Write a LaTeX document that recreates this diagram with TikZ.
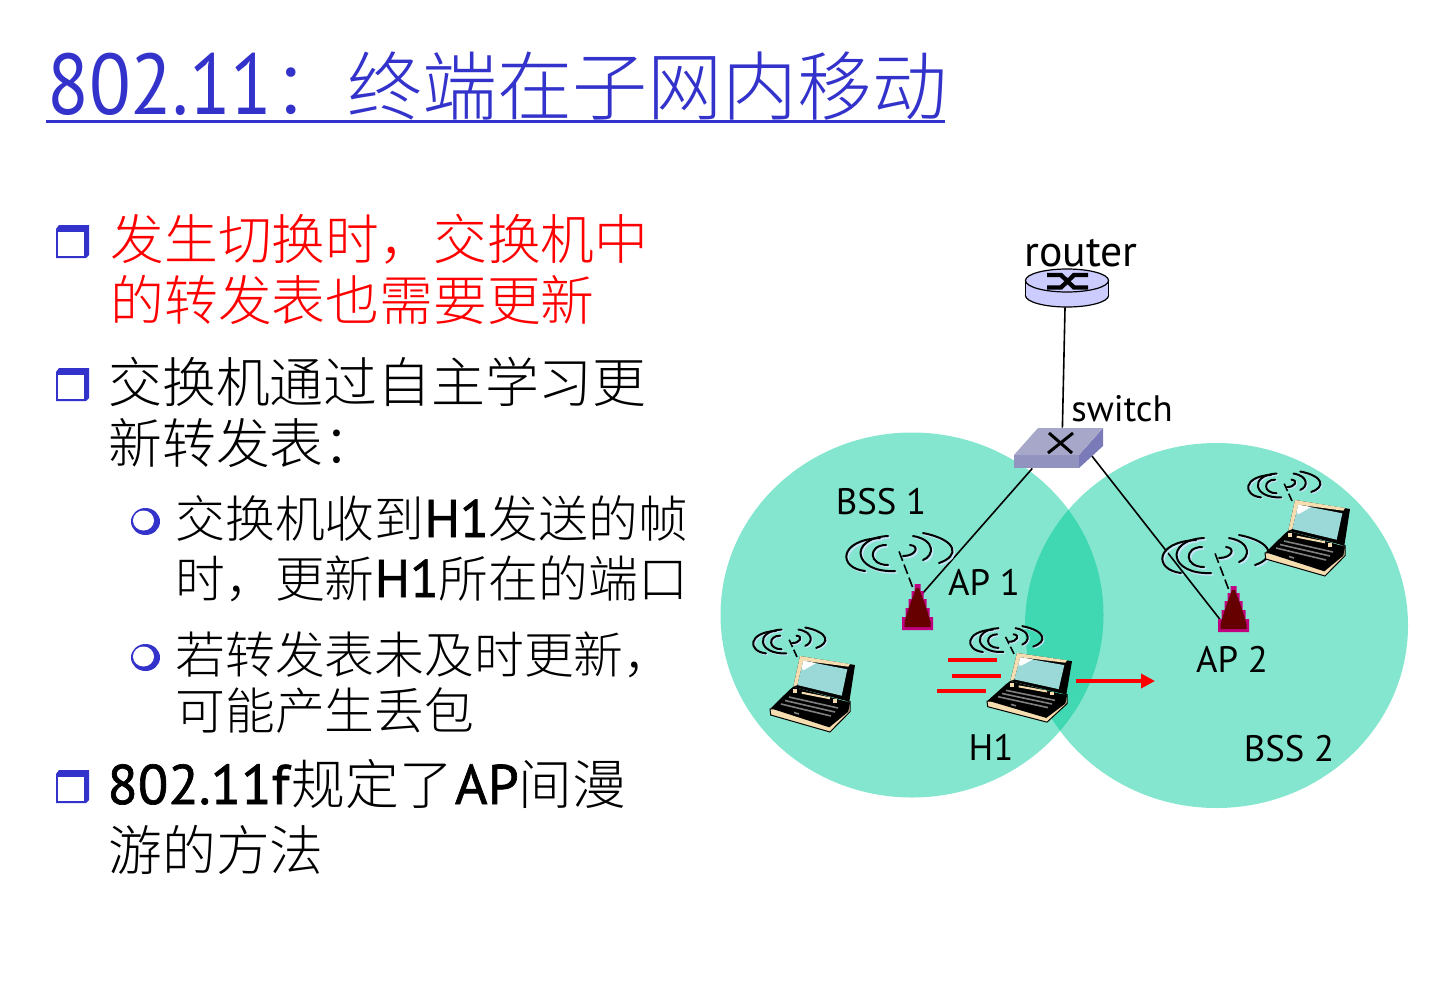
\documentclass[tikz,border=0pt]{standalone}
\usepackage{fontspec}
\setmainfont[Scale=1.15]{PT Sans}
\newfontfamily\titlelat[Scale=1.15,FakeStretch=0.888]{PT Sans}
\newfontfamily\boldlat[Scale=1.15,FakeBold=1.2]{PT Sans}
\newfontfamily\cjk{Noto Sans CJK SC Light}
\usetikzlibrary{arrows.meta}
\definecolor{titleblue}{HTML}{3333CC}
\definecolor{bsscolor}{HTML}{84E6CE}
\definecolor{overlapcolor}{HTML}{40D8B2}
\definecolor{wavecolor}{HTML}{C8E4F8}
\definecolor{creamcolor}{HTML}{F5DDB0}
\definecolor{screencolor}{HTML}{9BD8D8}
\definecolor{towercolor}{HTML}{660000}
\definecolor{toweredge}{HTML}{C00080}
\tikzset{
  titletext/.style={anchor=west, inner sep=0, text=titleblue, font=\fontsize{37.5}{40}\selectfont},
  mainline/.style={anchor=west, inner sep=0, text height=22pt, text depth=3pt, font=\fontsize{26.9}{30}\selectfont},
  subline/.style={anchor=west, inner sep=0, text height=21pt, text depth=2pt, font=\fontsize{24.9}{30}\selectfont},
  netlabel/.style={inner sep=0, font=\fontsize{16}{20}\selectfont},
  iconbox/.style={inner sep=0, minimum width=#1, text height=0pt, text depth=0pt},
  speedline/.style={red, line width=2.3pt},
  wavesline/.style={line width=1pt, line cap=round},
  squarebullet/.pic={
    \fill[titleblue] (3,0) -- (33,0) -- (33,30) -- (30,33) -- (0,33) -- (0,4) -- cycle;
    \fill[white] (2,7) rectangle (28,31);
  },
  roundbullet/.pic={
    \fill[titleblue] (0,0) ellipse [x radius=14.5, y radius=13.5];
    \fill[white] (-2,-1) ellipse [x radius=10.5, y radius=10];
  },
  waves/.pic={
    \foreach \col/\dx in {wavecolor/1.6, black/0} {
      \begin{scope}[shift={(\dx,\dx)}]
        \draw[wavesline, \col] (-18,-10) .. controls (-60,-8) and (-60,20) .. (-33,23);
        \draw[wavesline, \col] (-10,-12) .. controls (-50,-10) and (-45,25) .. (-3,23);
        \draw[wavesline, \col] (-12,-3) .. controls (-30,-3) and (-30,17) .. (-10,17);
        \draw[wavesline, \col] (12,-3) .. controls (22,-2) and (18,8) .. (5,8);
        \draw[wavesline, \col] (15,-12) .. controls (38,-8) and (36,8) .. (25,12);
        \draw[wavesline, \col] (25,-15) .. controls (60,-8) and (62,8) .. (41,15);
      \end{scope}
    }
  },
  tower/.pic={
    \fill[toweredge] (-3,0) -- (3,0) -- (3,7) -- (6,7) -- (6,15) -- (9,15) -- (9,24) -- (12,24) -- (12,33) -- (15.5,33) -- (15.5,46) -- (-15.5,46) -- (-15.5,33) -- (-12,33) -- (-12,24) -- (-9,24) -- (-9,15) -- (-6,15) -- (-6,7) -- (-3,7) -- cycle;
    \fill[towercolor] (-1.5,4) -- (1.5,4) -- (4,11) -- (7,19) -- (10,28) -- (13,38) -- (13,43) -- (-13,43) -- (-13,38) -- (-10,28) -- (-7,19) -- (-4,11) -- cycle;
    \draw[line width=.8pt, dash pattern=on 5pt off 2pt] (-5,3) -- (-19,-34);
    \pic at (-19.5,-36) {waves};
  },
  laptop/.pic={
    \draw[line width=.8pt, dash pattern=on 4pt off 1.5pt] (-3,1) -- (-11.7,-18.3);
    \pic[scale=.68] at (-11.7,-18.3) {waves};
    \fill[creamcolor, draw=black, line width=.5pt] (-30,53) -- (-29.3,59) -- (30,76) -- (50,55.7) -- (50,45.7) -- cycle;
    \fill[black] (-29.3,52.3) -- (-10.7,34) -- (-6.7,30.7) -- (50,46.7) -- (48.3,55.7) -- (29.3,71.3) -- cycle;
    \fill[black] (0,0) -- (55,9) -- (49.3,45.7) -- (-6.7,30.7) -- cycle;
    \fill[creamcolor] (0,0) -- (50,8) -- (48.3,10.7) -- (3.3,4.7) -- (-2.7,29) -- (-6.7,30.7) -- cycle;
    \fill[screencolor] (3.3,4.7) -- (47.3,13.3) -- (41.7,39.7) -- (-2.7,29) -- cycle;
    \fill[white] (3.3,4.7) -- (16,7) -- (4,14) -- (1.5,13) -- cycle;
    \draw[creamcolor, line width=1pt] (1.7,36.7) -- (30,42.3);
    \fill[creamcolor] (-7,33) rectangle (-3,37);
    \fill[creamcolor] (33,42.5) rectangle (37,46.5);
    \draw[gray, line width=.8pt] (-11,41) -- (38,52);
    \draw[gray, line width=.8pt] (-15,44.5) -- (35,56);
    \draw[gray, line width=.8pt] (-19,48) -- (31,60);
    \draw[gray, line width=.8pt] (-6,56.5) -- (-1,58);
  },
  routericon/.pic={
    \draw[fill=blue!20, line width=.6pt] (0,7) ellipse [x radius=41.5, y radius=11.5];
    \fill[blue!20] (-41,-8) rectangle (41,7);
    \draw[line width=.6pt] (-41.5,-8) -- (-41.5,7) (41.5,-8) -- (41.5,7);
    \draw[fill=blue!20, line width=.6pt] (0,-8) ellipse [x radius=41.5, y radius=11.5];
    \draw[line width=2.2pt] (-20,-13.5) -- (-6,-13.5) -- (7,-1) -- (21,-1);
    \draw[line width=2.2pt] (-20,-1) -- (-6,-1) -- (7,-13.5) -- (21,-13.5);
  },
  switchicon/.pic={
    \fill[black!10!blue!30!gray!65] (-38,7) rectangle (27,20);
    \fill[blue!30!gray!80] (27,7) -- (51,-20) -- (51,-2) -- (27,20) -- cycle;
    \fill[blue!25!gray!55] (-14,-20) -- (51,-20) -- (27,7) -- (-38,7) -- cycle;
    \draw[line width=1.5pt] (-4,5) -- (21,-15) (-3,-15) -- (20,5);
  },
}
\begin{document}
\begin{tikzpicture}[x=0.5pt, y=-0.5pt]
\useasboundingbox (0,0) rectangle (1433,1007);

\node[titletext] (title) at (47,86) {{\titlelat 802.11}{\cjk ：终端在子网内移动}};
\draw[titleblue, line width=1.5pt] (46,121) -- (945,121);

\pic at (56,225) {squarebullet};
\pic at (56,368) {squarebullet};
\pic at (56,770) {squarebullet};
\pic at (145.5,521.5) {roundbullet};
\pic at (145.5,657.5) {roundbullet};

\node[mainline, text=red] (line1) at (110,240) {\cjk 发生切换时，交换机中};
\node[mainline, text=red] (line2) at (110,301) {\cjk 的转发表也需要更新};
\node[mainline] (line3) at (108,383) {\cjk 交换机通过自主学习更};
\node[mainline] (line4) at (108,444) {\cjk 新转发表：};
\node[subline] (line5) at (175,518) {{\cjk 交换机收到}{\fontsize{23}{30}\selectfont\boldlat H1}{\cjk 发送的帧}};
\node[subline] (line6) at (175,578) {{\cjk 时，更新}{\fontsize{23}{30}\selectfont\boldlat H1}{\cjk 所在的端口}};
\node[subline] (line7) at (175,654) {\cjk 若转发表未及时更新，};
\node[subline] (line8) at (175,710) {\cjk 可能产生丢包};
\node[mainline] (line9) at (107,785) {{\fontsize{24.3}{30}\selectfont\boldlat 802.11f}\kern1pt{\cjk 规定了}\kern1pt{\fontsize{24.3}{30}\selectfont\boldlat AP}{\cjk 间漫}};
\node[mainline] (line10) at (108,851) {\cjk 游的方法};

\fill[bsscolor] (912,615) ellipse [x radius=191.5, y radius=182.5];
\fill[bsscolor] (1216.5,625.5) ellipse [x radius=191.5, y radius=182.5];
\begin{scope}
  \clip (912,615) ellipse [x radius=191.5, y radius=182.5];
  \fill[overlapcolor] (1216.5,625.5) ellipse [x radius=191.5, y radius=182.5];
\end{scope}

\node[iconbox=41pt, minimum height=18.5pt] (router) at (1067,288.5) {};
\node[iconbox=38pt, minimum height=20pt] (switch) at (1052,448) {};
\node[inner sep=0, minimum size=0] (ap1) at (922,594) {};
\node[inner sep=0, minimum size=0] (ap2) at (1222,622) {};
\coordinate (moveStart) at (1076,681);
\coordinate (moveEnd) at (1155,681);

\draw[line width=.8pt] (router.264) -- (switch.63);
\draw[line width=.8pt] (switch.226) -- (ap1);
\draw[line width=.8pt] (switch.-9) -- (ap2);

\pic at (router) {routericon};
\pic at (switch) {switchicon};
\pic at (917.5,584) {tower};
\pic at (1233.5,586) {tower};
\pic at (800,656) {laptop};
\pic[yscale=.91] at (1017,653) {laptop};
\pic at (1295,500) {laptop};

\draw[speedline] (948,660) -- (997,660);
\draw[speedline] (952,676) -- (1001,676);
\draw[speedline] (937,691) -- (986,691);
\draw[red, line width=2pt, -{Triangle[length=7pt, width=7pt]}] (moveStart) -- (moveEnd);

\node[netlabel, font=\fontsize{19}{20}\selectfont] (routerlabel) at (1081,253) {router};
\node[netlabel] (switchlabel) at (1122,409) {switch};
\node[netlabel] (bss1label) at (881,502) {BSS 1};
\node[netlabel] (ap1label) at (984,582) {AP 1};
\node[netlabel] (h1label) at (991,747) {H1};
\node[netlabel] (ap2label) at (1232,659) {AP 2};
\node[netlabel] (bss2label) at (1289,749) {BSS 2};
\end{tikzpicture}
\end{document}
